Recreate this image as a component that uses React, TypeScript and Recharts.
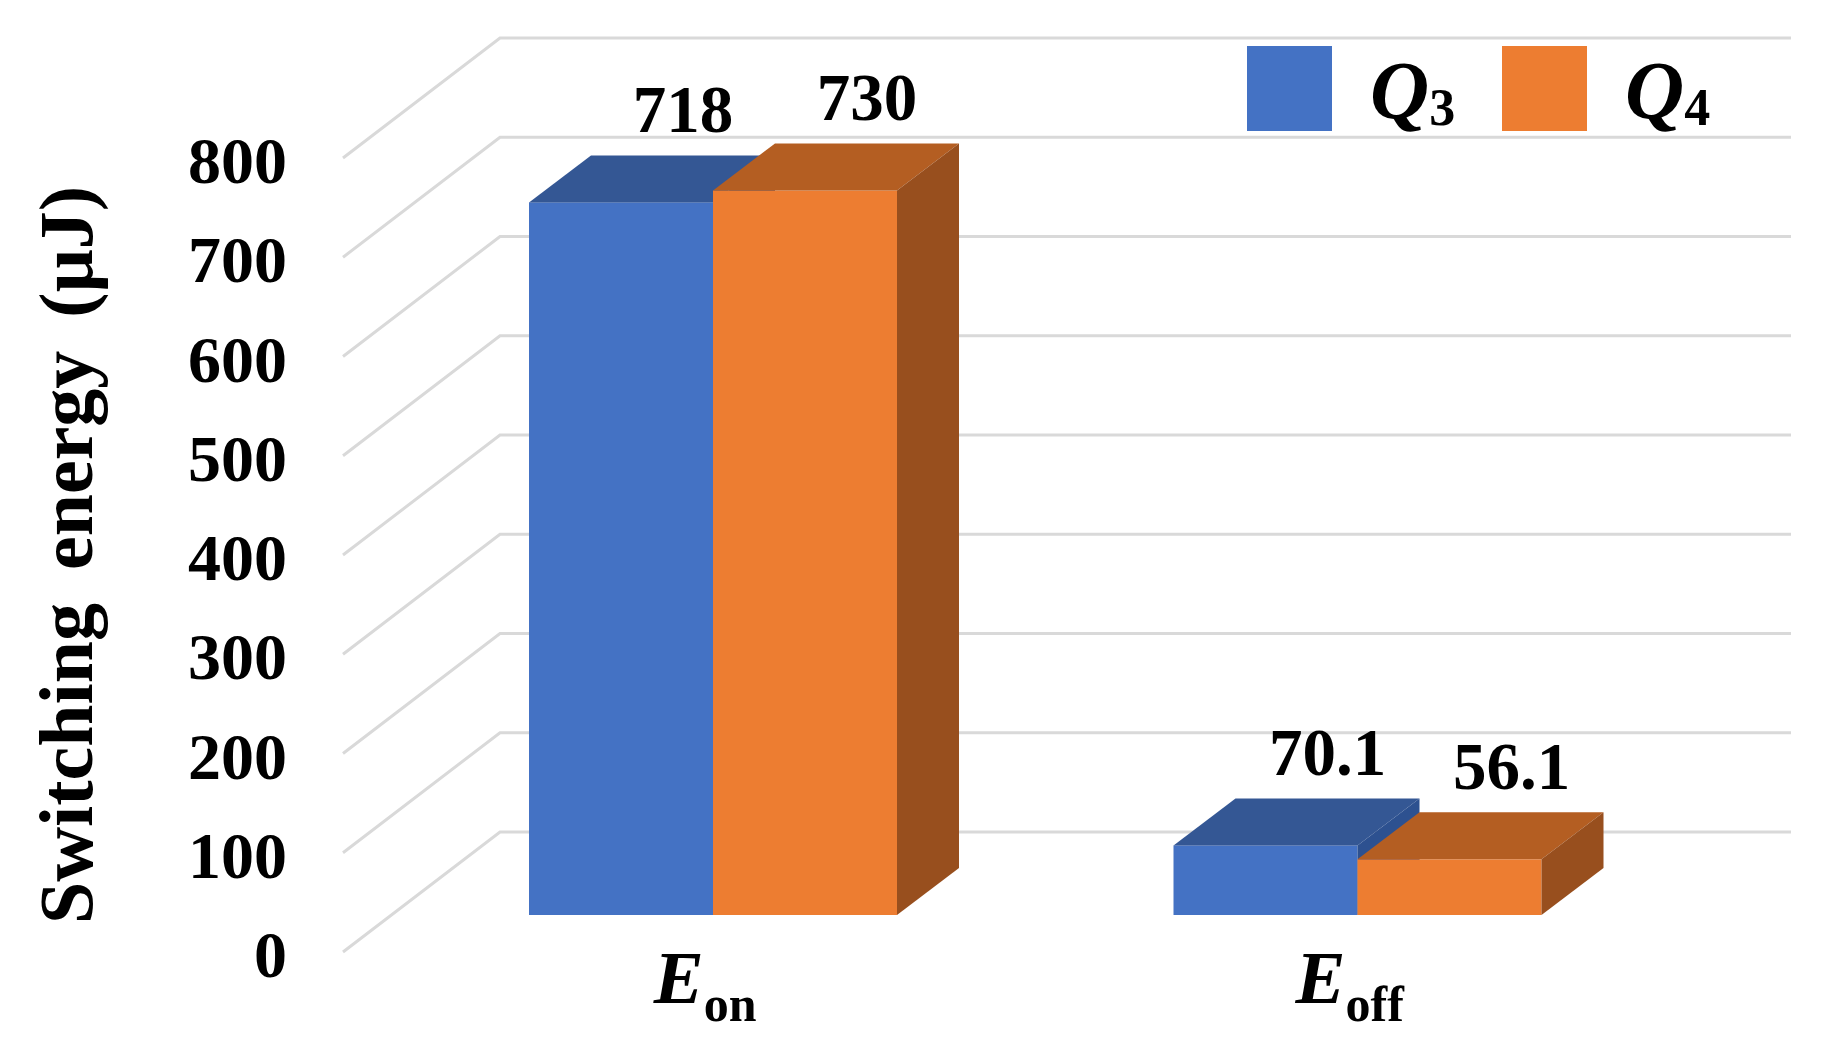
import React from 'react'
import { BarChart, Bar, XAxis, YAxis, CartesianGrid, Legend, LabelList } from 'recharts'

const categories = ['on', 'off']
const seriesNames = ['Q3', 'Q4']
const q3Values = [718, 70.1]
const q4Values = [730, 56.1]
const yTicks = [0, 100, 200, 300, 400, 500, 600, 700, 800]

const data = categories.map((c, i) => ({ name: c, Q3: q3Values[i], Q4: q4Values[i] }))

const SERIF = "'Liberation Serif', 'Times New Roman', serif"

// depth of the bars (front face -> back edge)
const DX = 62
const DY = 47

const colors: Record<string, { front: string; top: string; side: string }> = {
  Q3: { front: '#4472C4', top: '#345794', side: '#2D5190' },
  Q4: { front: '#ED7D31', top: '#B45E22', side: '#984F1E' },
}

function Bar3D(props: any) {
  const { x, y, width, height, series } = props
  const c = colors[series]
  const w = width
  const h = height
  return (
    <g>
      <rect x={x} y={y} width={w} height={h} fill={c.front} />
      <polygon
        points={`${x},${y} ${x + DX},${y - DY} ${x + w + DX},${y - DY} ${x + w},${y}`}
        fill={c.top}
      />
      <polygon
        points={`${x + w},${y} ${x + w + DX},${y - DY} ${x + w + DX},${y + h - DY} ${x + w},${y + h}`}
        fill={c.side}
      />
    </g>
  )
}

// back wall line + diagonal on the floor side
function GridLine3D(props: any) {
  const { x1, x2, y1 } = props
  const pts = `${x1 - 48},${y1 + 37} ${x1 + 109},${y1 - 83} ${x2 + 111},${y1 - 83}`
  return <polyline key={props.key} points={pts} fill="none" stroke="#D9D9D9" strokeWidth={3} />
}

function YTick(props: any) {
  const { x, y, payload } = props
  return (
    <text x={x} y={y + 62} textAnchor="end" fontFamily={SERIF} fontWeight="bold" fontSize={66} fill="#000">
      {payload.value}
    </text>
  )
}

function XTick(props: any) {
  const { x, y, payload } = props
  return (
    <text x={x - 8} y={y + 88} textAnchor="middle" fontFamily={SERIF} fontWeight="bold" fill="#000">
      <tspan fontStyle="italic" fontSize={75}>E</tspan>
      <tspan fontSize={50} dy={18}>{payload.value}</tspan>
    </text>
  )
}

function YTitle(props: any) {
  const vb = props.viewBox
  const tx = vb.x + 92
  const ty = vb.y + vb.height / 2 + 37
  return (
    <text
      x={tx}
      y={ty}
      transform={`rotate(-90, ${tx}, ${ty})`}
      textAnchor="middle"
      fontFamily={SERIF}
      fontWeight="bold"
      fontSize={76}
      wordSpacing={14}
      fill="#000"
    >
      Switching energy (μJ)
    </text>
  )
}

function valueLabel(props: any) {
  const { x, y, width, value } = props
  return (
    <text
      x={x + width / 2 + DX}
      y={y - DY - 23}
      textAnchor="middle"
      fontFamily={SERIF}
      fontWeight="bold"
      fontSize={67}
      fill="#000"
    >
      {value}
    </text>
  )
}

function LegendContent(props: any) {
  const items = props.payload || []
  return (
    <svg width={580} height={100} style={{ overflow: 'visible' }}>
      {items.map((item: any, i: number) => {
        const name = String(item.value)
        const ox = i * 255
        return (
          <g key={name}>
            <rect x={ox} y={0} width={85} height={85} fill={colors[name].front} />
            <text x={ox + 123} y={72} fontFamily={SERIF} fontWeight="bold" fill="#000">
              <tspan fontStyle="italic" fontSize={82}>{name.charAt(0)}</tspan>
              <tspan fontSize={52} dy={7}>{name.slice(1)}</tspan>
            </text>
          </g>
        )
      })}
    </svg>
  )
}

export default function App() {
  return (
    <div style={{ position: 'absolute', left: 0, top: 0, width: 1823, height: 1049, background: '#fff' }}>
      <BarChart
        width={1823}
        height={1049}
        data={data}
        margin={{ top: 121, right: 143, bottom: 0, left: 0 }}
        barGap={0}
        barSize={184}
      >
        <CartesianGrid vertical={false} horizontal={(p: any) => <GridLine3D {...p} />} />
        <XAxis
          dataKey="name"
          height={134}
          axisLine={false}
          tickLine={false}
          tickSize={0}
          tickMargin={0}
          tick={<XTick />}
          interval={0}
        />
        <YAxis
          width={391}
          domain={[0, 800]}
          ticks={yTicks}
          axisLine={false}
          tickLine={false}
          tickSize={0}
          tickMargin={104}
          tick={<YTick />}
          label={(p: any) => <YTitle {...p} />}
        />
        <Legend
          layout="horizontal"
          verticalAlign="middle"
          align="center"
          content={<LegendContent />}
          wrapperStyle={{ position: 'absolute', left: 1247, top: 46, width: 580, height: 100 }}
        />
        {seriesNames.map((s) => (
          <Bar
            key={s}
            dataKey={s}
            name={s}
            fill={colors[s].front}
            isAnimationActive={false}
            shape={(p: any) => <Bar3D {...p} series={s} />}
          >
            <LabelList dataKey={s} content={valueLabel} />
          </Bar>
        ))}
      </BarChart>
    </div>
  )
}
